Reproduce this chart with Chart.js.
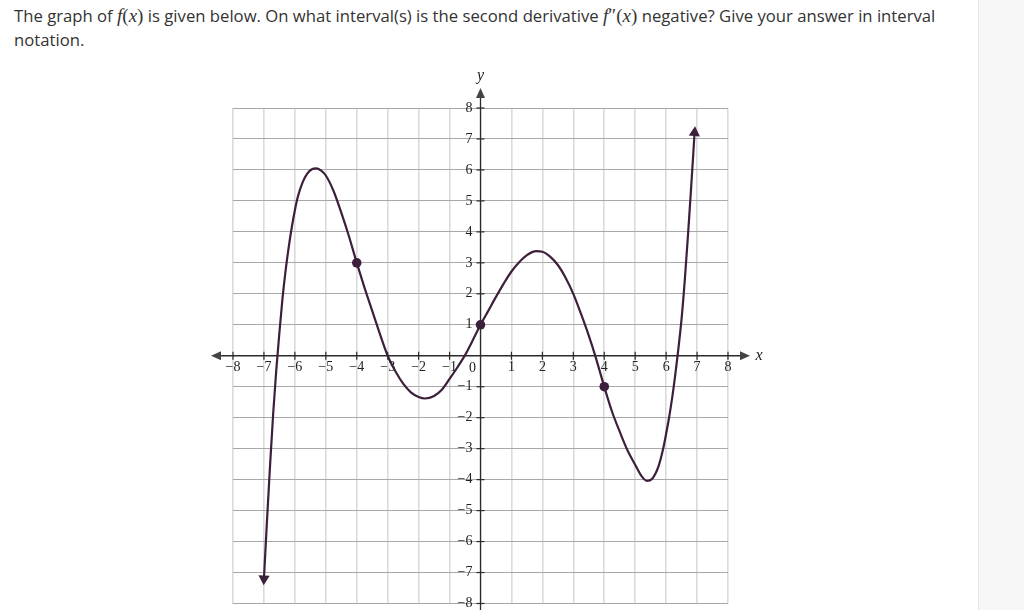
<!DOCTYPE html>
<html>
<head>
<meta charset="utf-8">
<script src="https://cdn.jsdelivr.net/npm/chart.js@4/dist/chart.umd.min.js"></script>
<style>
  html,body{margin:0;padding:0;background:#fff;width:1024px;height:610px;overflow:hidden;}
  #q{position:absolute;left:14px;top:4px;width:945px;font-family:'Open Sans',sans-serif;font-size:16.7px;line-height:23.5px;color:#333;}
  .m{font-family:'Liberation Serif',serif;font-size:19px;}
  .m i{font-style:italic;}
  #side{position:absolute;left:978px;top:0;width:46px;height:610px;background:#f7f7f7;border-left:1px solid #e6e6e6;}
  #c{position:absolute;left:0;top:0;}
</style>
</head>
<body>
<div id="q">The graph of <span class="m"><i>f</i>(<i>x</i>)</span> is given below. On what interval(s) is the second derivative <span class="m"><i>f</i>″(<i>x</i>)</span> negative? Give your answer in interval notation.</div>
<div id="side"></div>
<canvas id="c" width="1024" height="610"></canvas>
<script>
// ---- data ----
const curveX = [-7.0, -6.9, -6.8, -6.7, -6.6, -6.5, -6.4, -6.3, -6.2, -6.1, -6.0, -5.9, -5.75, -5.6, -5.45, -5.32, -5.15, -5.0, -4.75, -4.5, -4.25, -4.0, -3.75, -3.5, -3.25, -3.0, -2.75, -2.5, -2.25, -2.0, -1.8, -1.5, -1.25, -1.0, -0.75, -0.5, -0.25, 0.0, 0.25, 0.5, 0.75, 1.0, 1.25, 1.5, 1.8, 2.0, 2.25, 2.5, 2.75, 3.0, 3.25, 3.5, 3.7, 4.0, 4.25, 4.5, 4.75, 5.0, 5.2, 5.38, 5.55, 5.75, 5.9, 6.0, 6.1, 6.2, 6.3, 6.37, 6.5, 6.6, 6.7, 6.8, 6.92];
const curveY = [-7.2, -5.3, -3.5, -1.85, -0.45, 0.75, 1.85, 2.75, 3.5, 4.15, 4.7, 5.15, 5.6, 5.88, 6.02, 6.05, 5.98, 5.82, 5.32, 4.62, 3.85, 3.0, 2.2, 1.45, 0.7, 0.0, -0.5, -0.9, -1.18, -1.33, -1.38, -1.3, -1.1, -0.75, -0.38, 0.02, 0.5, 1.0, 1.45, 1.9, 2.33, 2.72, 3.02, 3.25, 3.38, 3.36, 3.2, 2.93, 2.52, 2.0, 1.35, 0.65, 0.03, -1.0, -1.8, -2.45, -3.05, -3.52, -3.88, -4.04, -3.97, -3.58, -3.02, -2.52, -1.97, -1.33, -0.58, 0.0, 1.2, 2.4, 3.8, 5.3, 7.2];
const dotX = [-4, 0, 4];
const dotY = [3, 1, -1];
const xTicks = [-8, -7, -6, -5, -4, -3, -2, -1, 1, 2, 3, 4, 5, 6, 7, 8];
const yTicks = [-8, -7, -6, -5, -4, -3, -2, -1, 1, 2, 3, 4, 5, 6, 7, 8];
const originLabel = '0';
const xName = 'x', yName = 'y';

const fmt = v => (v < 0 ? '\u2212' + Math.abs(v) : String(v));
const curveData = curveX.map((x, i) => ({x, y: curveY[i]}));
const dotData = dotX.map((x, i) => ({x, y: dotY[i]}));
const INK = '#3c1f3b';
const AX = '#2b2b2b';

function arrow(ctx, tx, ty, dir, len, half) {
  ctx.beginPath();
  if (dir === 'left') { ctx.moveTo(tx, ty); ctx.lineTo(tx + len, ty - half); ctx.lineTo(tx + len, ty + half); }
  if (dir === 'right') { ctx.moveTo(tx, ty); ctx.lineTo(tx - len, ty - half); ctx.lineTo(tx - len, ty + half); }
  if (dir === 'up') { ctx.moveTo(tx, ty); ctx.lineTo(tx - half, ty + len); ctx.lineTo(tx + half, ty + len); }
  ctx.closePath(); ctx.fill();
}

const axesPlugin = {
  id: 'axesThroughOrigin',
  beforeDatasetsDraw(chart) {
    const {ctx, scales: {x, y}} = chart;
    const x0 = x.getPixelForValue(0), y0 = y.getPixelForValue(0);
    ctx.save();
    ctx.strokeStyle = AX; ctx.fillStyle = '#444'; ctx.lineWidth = 1.3;
    // x axis
    ctx.beginPath(); ctx.moveTo(x.left - 14, y0); ctx.lineTo(x.right + 14, y0); ctx.stroke();
    arrow(ctx, x.left - 22, y0, 'left', 10, 4.5);
    arrow(ctx, x.right + 22, y0, 'right', 10, 4.5);
    // y axis
    ctx.beginPath(); ctx.moveTo(x0, y.top - 12); ctx.lineTo(x0, y.bottom + 10); ctx.stroke();
    arrow(ctx, x0, y.top - 20, 'up', 10, 4.5);
    // ticks
    ctx.lineWidth = 1.2; ctx.strokeStyle = AX;
    xTicks.forEach(v => { const px = x.getPixelForValue(v); ctx.beginPath(); ctx.moveTo(px, y0 - 4); ctx.lineTo(px, y0 + 4); ctx.stroke(); });
    yTicks.forEach(v => { const py = y.getPixelForValue(v); ctx.beginPath(); ctx.moveTo(x0 - 4, py); ctx.lineTo(x0 + 4, py); ctx.stroke(); });
    // labels
    ctx.fillStyle = '#222';
    ctx.font = '14px "Liberation Serif", serif';
    ctx.textAlign = 'center'; ctx.textBaseline = 'middle';
    xTicks.forEach(v => ctx.fillText(fmt(v), x.getPixelForValue(v), y0 + 12));
    ctx.textAlign = 'right';
    yTicks.forEach(v => ctx.fillText(fmt(v), x0 - 8, y.getPixelForValue(v)));
    ctx.textAlign = 'center';
    ctx.fillText(originLabel, x0 - 8, y0 + 13);
    ctx.font = 'italic 16px "Liberation Serif", serif';
    ctx.fillText(xName, x.right + 31, y0);
    ctx.fillText(yName, x0, y.top - 32);
    ctx.restore();
  }
};

new Chart(document.getElementById('c'), {
  type: 'scatter',
  data: {
    datasets: [
      {
        data: curveData,
        showLine: true,
        borderColor: INK,
        backgroundColor: INK,
        borderWidth: 2.2,
        cubicInterpolationMode: 'monotone',
        pointRadius: ctx => (ctx.dataIndex === 0 || ctx.dataIndex === curveX.length - 1) ? 6.5 : 0,
        pointStyle: 'triangle',
        pointRotation: ctx => ctx.dataIndex === 0 ? 182.5 : 4.5,
        pointBorderWidth: 0,
        order: 2
      },
      {
        data: dotData,
        showLine: false,
        pointRadius: 4.8,
        pointBackgroundColor: INK,
        pointBorderColor: INK,
        pointBorderWidth: 0,
        order: 1
      }
    ]
  },
  options: {
    responsive: false,
    animation: false,
    devicePixelRatio: 1,
    layout: {padding: {left: 233, right: 296, top: 108, bottom: 6}},
    plugins: {legend: {display: false}, tooltip: {enabled: false}},
    scales: {
      x: {
        type: 'linear', min: -8, max: 8,
        ticks: {display: false, stepSize: 1},
        grid: {color: '#dadada', lineWidth: 1.6, drawTicks: false},
        border: {display: false}
      },
      y: {
        type: 'linear', min: -8, max: 8,
        ticks: {display: false, stepSize: 1},
        grid: {color: '#a8a8a8', lineWidth: 1, drawTicks: false},
        border: {display: false}
      }
    }
  },
  plugins: [axesPlugin]
});
</script>
</body>
</html>
